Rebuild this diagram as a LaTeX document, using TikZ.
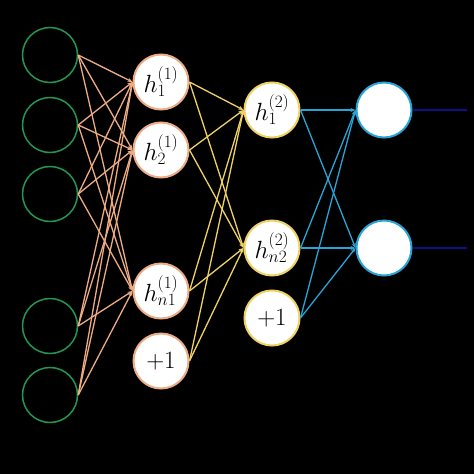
\documentclass[tikz,border=0pt]{standalone}
\usetikzlibrary{arrows.meta}
\definecolor{ingreen}{RGB}{36,150,80}
\definecolor{hidorange}{RGB}{238,172,132}
\definecolor{hidyellow}{RGB}{240,210,100}
\definecolor{outblue}{RGB}{40,165,215}
\definecolor{outnavy}{RGB}{15,15,140}
\tikzset{
    unit/.style={circle, inner sep=0pt, minimum size=55pt, font=\fontsize{25}{29}\selectfont},
    inp/.style={unit, draw=ingreen, line width=1.5pt},
    hidA/.style={unit, draw=hidorange, fill=white, line width=2pt},
    hidB/.style={unit, draw=hidyellow, fill=white, line width=2pt},
    outp/.style={unit, draw=outblue, fill=white, line width=2pt},
    wire/.style={line width=1.3pt, -{Stealth[length=5pt,width=4pt]}}
}
\begin{document}
\begin{tikzpicture}[x=1pt, y=-1pt]
        \fill[black] (0,0) rectangle (474,474);
        \useasboundingbox (0,0) rectangle (474,474);

        % input layer
        \node[inp] (i1) at (50, 55) {};
        \node[inp] (i2) at (50, 125) {};
        \node[inp] (i3) at (50, 194) {};
        \node[inp] (i4) at (50, 326) {};
        \node[inp] (i5) at (50, 395) {};

        % first hidden layer
        \node[hidA] (a1) at (161, 82) {$h_1^{(1)}$};
        \node[hidA] (a2) at (161, 150) {$h_2^{(1)}$};
        \node[hidA] (a3) at (161, 291) {$h_{n1}^{(1)}$};
        \node[hidA] (a4) at (161, 361) {$+1$};

        % second hidden layer
        \node[hidB] (b1) at (272, 110) {$h_1^{(2)}$};
        \node[hidB] (b2) at (272, 248) {$h_{n2}^{(2)}$};
        \node[hidB] (b3) at (272, 318) {$+1$};

        % output layer
        \node[outp] (o1) at (384, 110) {};
        \node[outp] (o2) at (384, 248) {};
        \coordinate (e1) at (467, 110);
        \coordinate (e2) at (467, 248);

        \foreach \i in {1,...,5}
            \foreach \j in {1,2,3}
                \draw[wire, hidorange] (i\i.east) -- (a\j.west);
        \foreach \i in {1,...,4}
            \foreach \j in {1,2}
                \draw[wire, hidyellow] (a\i.east) -- (b\j.west);
        \foreach \i in {1,2,3}
            \foreach \j in {1,2}
                \draw[wire, outblue] (b\i.east) -- (o\j.west);

        \draw[outnavy, line width=1.5pt] (o1.east) -- (e1);
        \draw[outnavy, line width=1.5pt] (o2.east) -- (e2);
    \end{tikzpicture}
\end{document}
